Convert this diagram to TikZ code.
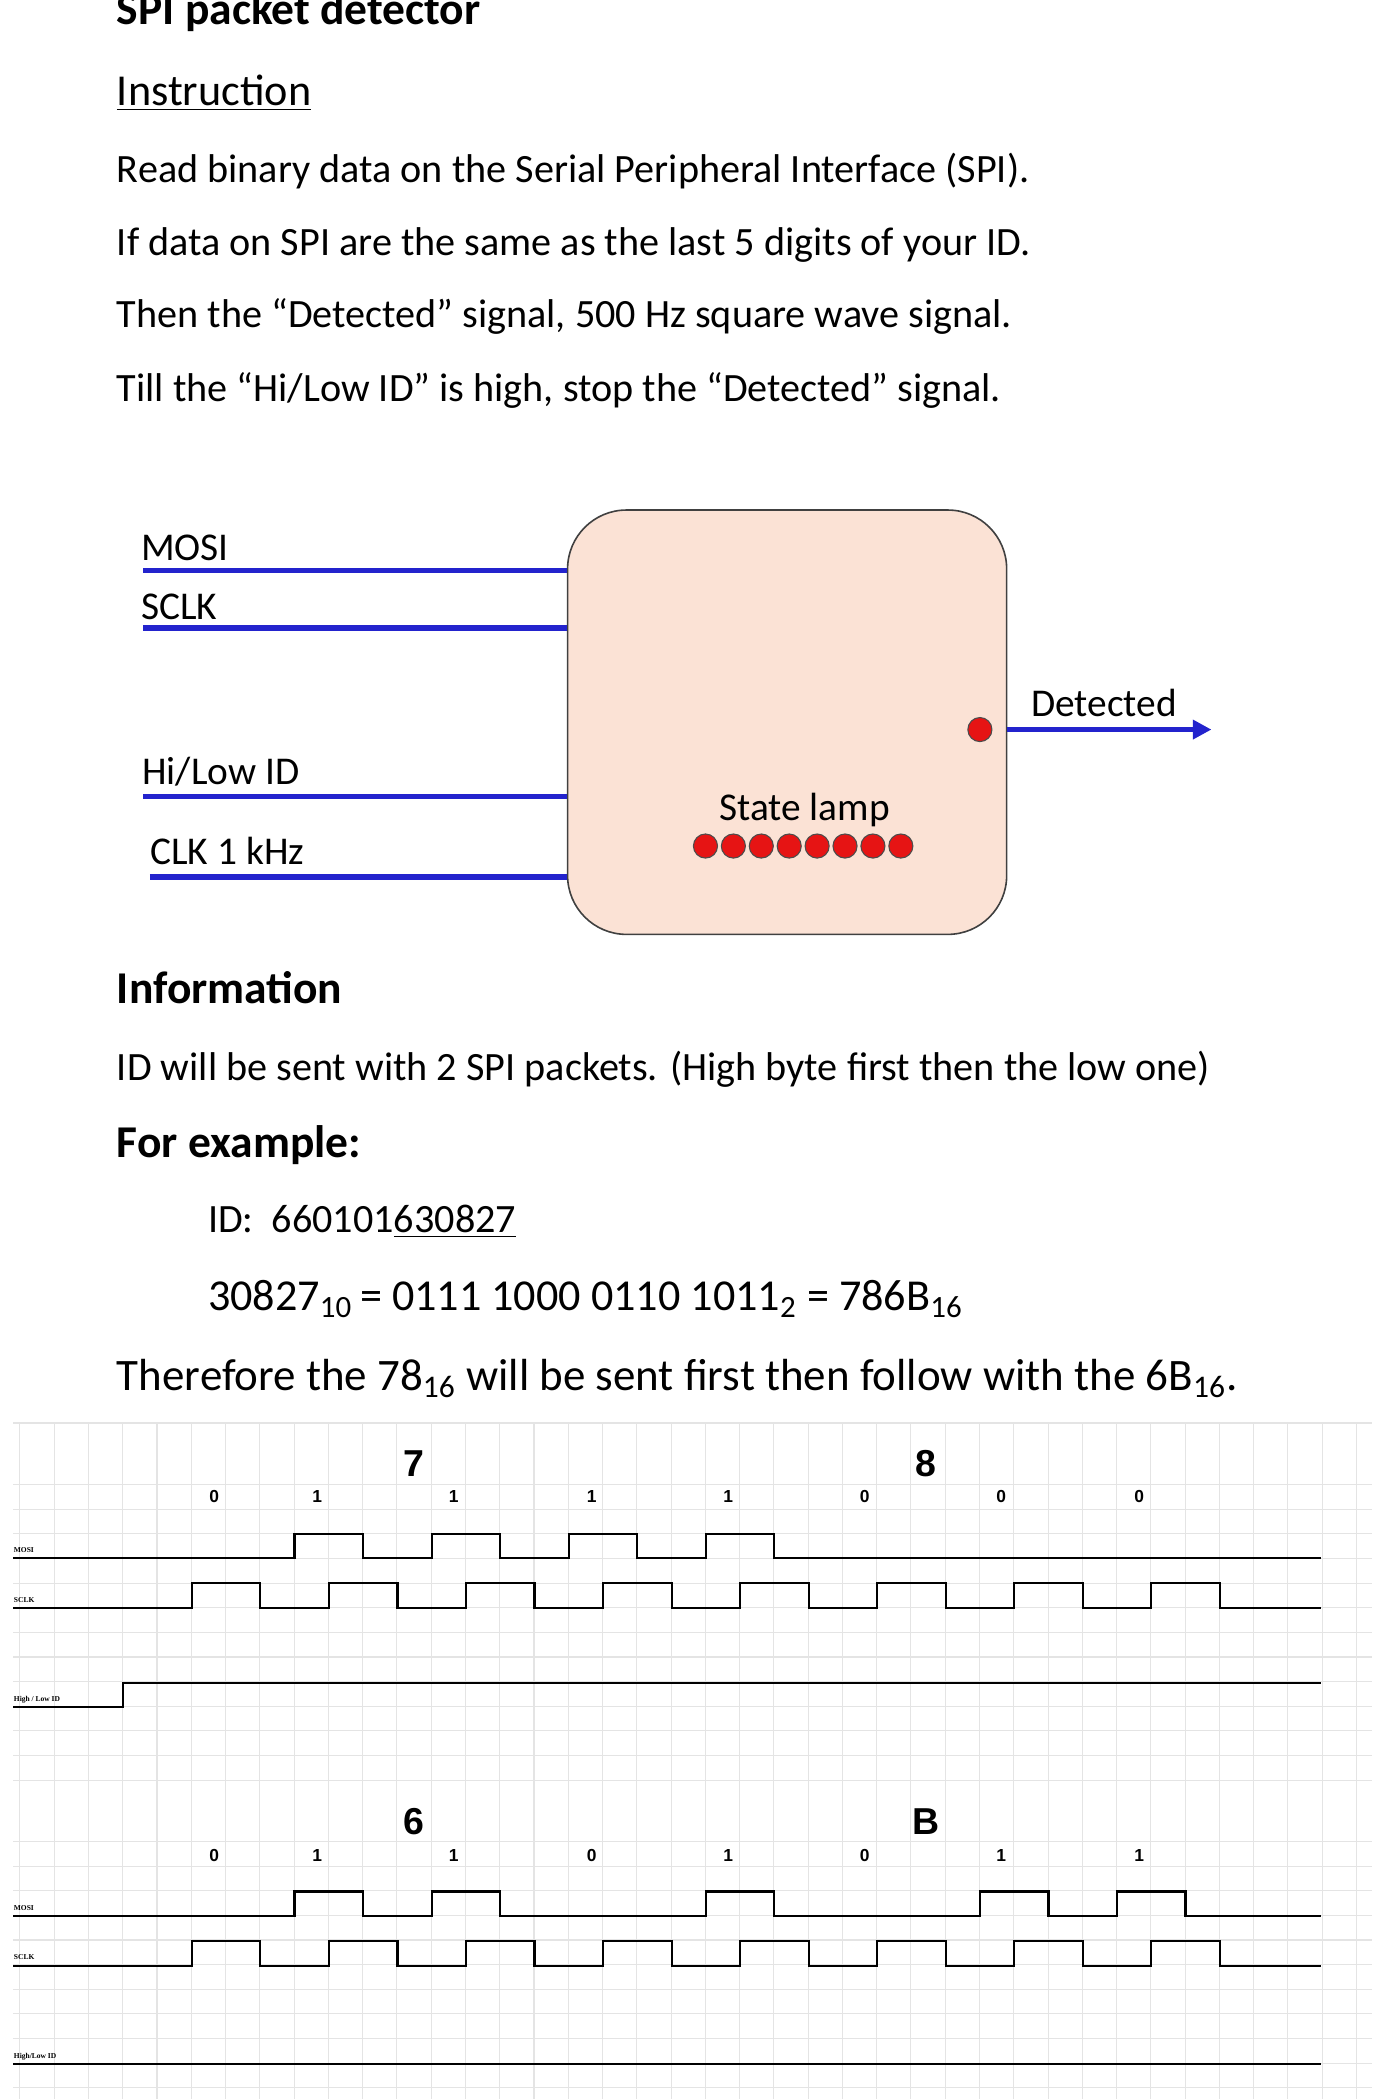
\documentclass[tikz,border=0pt]{standalone}
\usepackage{fontspec}
\setmainfont{Carlito}
\newfontfamily\arialf{Liberation Sans}
\newfontfamily\timesf{Liberation Serif}
\usetikzlibrary{arrows.meta}
\definecolor{wireblue}{RGB}{35,35,205}
\definecolor{boxfill}{RGB}{251,226,213}
\definecolor{lampred}{RGB}{230,20,20}
\definecolor{gridc}{RGB}{228,228,228}
\tikzset{
  txt/.style={anchor=base west,inner sep=0pt,font=\fontsize{15}{17}\selectfont},
  btxt/.style={anchor=base west,inner sep=0pt,font=\bfseries\fontsize{17}{19}\selectfont},
  wtxt/.style={anchor=base west,inner sep=0pt,font=\fontsize{14.7}{17}\selectfont},
  wire/.style={wireblue,line width=2pt},
  lamp/.style={circle,fill=lampred,draw=black!70,line width=0.4pt,minimum size=9pt,inner sep=0pt},
  sig/.style={black,line width=0.8pt},
  bitl/.style={font=\arialf\bfseries\fontsize{6.5}{7}\selectfont,inner sep=0pt},
  nibl/.style={font=\arialf\bfseries\fontsize{14}{15}\selectfont,inner sep=0pt},
  sigl/.style={anchor=base west,inner sep=0pt,font=\timesf\bfseries\fontsize{2.8}{3}\selectfont},
}
\begin{document}
\begin{tikzpicture}[x=0.5pt,y=-0.5pt]
\useasboundingbox (0,0) rectangle (1038,1568);
% text
\node[btxt] (title) at (87,18) {SPI packet detector};
\node[txt,font=\fontsize{16.5}{18}\selectfont] (instr) at (87,79) {\underline{Instruction}};
\node[txt] (l1) at (87,136) {Read binary data on the Serial Peripheral Interface (SPI).};
\node[txt] (l2) at (87,191) {If data on SPI are the same as the last 5 digits of your ID.};
\node[txt] (l3) at (87,245) {Then the “Detected” signal, 500 Hz square wave signal.};
\node[txt] (l4) at (87,300) {Till the “Hi/Low ID” is high, stop the “Detected” signal.};
% block
\node[draw=black!75,fill=boxfill,line width=0.6pt,rounded corners=22pt,minimum width=164pt,minimum height=158.5pt,inner sep=0pt] (blk) at (588,539.5) {};
\coordinate (mosiS) at (107,426); \coordinate (sclkS) at (107,469);
\coordinate (hlS) at (107,595); \coordinate (clkS) at (112,655);
\draw[wire] (mosiS) -- (mosiS -| blk.west);
\draw[wire] (sclkS) -- (sclkS -| blk.west);
\draw[wire] (hlS) -- (hlS -| blk.west);
\draw[wire] (clkS) -- (clkS -| blk.west);
\node[wtxt] (mosiL) at (105,419) {MOSI};
\node[wtxt] (sclkL) at (105,463) {SCLK};
\node[wtxt] (hlL) at (106,586) {Hi/Low ID};
\node[wtxt] (clkL) at (112,646) {CLK 1 kHz};
\node[lamp] (det) at (732,545) {};
\coordinate (detE) at (905,545);
\draw[wire,-{Triangle[length=7pt,width=7pt]}] (det -| blk.east) -- (detE);
\node[wtxt] (detL) at (770,535) {Detected};
\node[wtxt,anchor=base] (slL) at (601,613) {State lamp};
\foreach \i in {0,...,7}{\node[lamp] (sl\i) at ({527+20.85*\i},632) {};}
% info
\node[btxt] (info) at (87,750) {Information};
\node[txt] (i1) at (87,807) {ID will be sent with 2 SPI packets. (High byte first then the low one)};
\node[btxt] (ex) at (87,865) {For example:};
\node[txt] (id) at (155,921) {ID: \ 660101\underline{630827}};
\node[txt,font=\fontsize{16.5}{18}\selectfont] (conv) at (155,979) {30827\textsubscript{10}\,= 0111 1000 0110 1011\textsubscript{2} = 786B\textsubscript{16}};
\node[txt,font=\fontsize{16.8}{19}\selectfont] (there) at (87,1039) {Therefore the 78\textsubscript{16} will be sent first then follow with the 6B\textsubscript{16}.};
% grid
\foreach \k in {-3,...,36}{\draw[gridc,line width=0.4pt] ({91.7+25.6*\k},1063) -- ({91.7+25.6*\k},1568);}
\draw[gridc,line width=0.4pt] (10,1063) -- (1025,1063);
\draw[gridc,line width=0.4pt] (10,1330) -- (1025,1330);
\foreach \k in {0,...,11}{\draw[gridc,line width=0.4pt] (10,{1109+18.4*\k}) -- (1025,{1109+18.4*\k});}
\foreach \k in {0,...,10}{\draw[gridc,line width=0.4pt] (10,{1375.6+18.4*\k}) -- (1025,{1375.6+18.4*\k});}
% top timing
\node[nibl] (n7) at (309,1093) {7};
\node[nibl] (n8) at (692,1093) {8};
\foreach \x/\b [count=\c] in {160/0,237/1,339/1,442/1,544/1,646/0,748/0,851/0}{\node[bitl] (tb\c) at (\x,1118) {\b};}
\draw[sig] (10,1164) foreach \i in {1,2,3,4}{ -- ({117.6+102.4*\i},1164) -- ++(0,-18) -- ++(51.2,0) -- ++(0,18)} -- (987,1164);
\draw[sig] (10,1201) foreach \i in {0,...,7}{ -- ({143.3+102.4*\i},1201) -- ++(0,-18.6) -- ++(51.2,0) -- ++(0,18.6)} -- (987,1201);
\draw[sig] (10,1275) -- (91.7,1275) -- (91.7,1257) -- (987,1257);
\node[sigl] (tm) at (10,1160) {MOSI};
\node[sigl] (ts) at (10,1197) {SCLK};
\node[sigl] (th) at (10,1271) {High / Low ID};
% bottom timing
\node[nibl] (n6) at (309,1361) {6};
\node[nibl] (nB) at (692,1361) {B};
\foreach \x/\b [count=\c] in {160/0,237/1,339/1,442/0,544/1,646/0,748/1,851/1}{\node[bitl] (bb\c) at (\x,1386) {\b};}
\draw[sig] (10,1431) foreach \i in {1,2,4,6,7}{ -- ({117.6+102.4*\i},1431) -- ++(0,-18) -- ++(51.2,0) -- ++(0,18)} -- (987,1431);
\draw[sig] (10,1468.6) foreach \i in {0,...,7}{ -- ({143.3+102.4*\i},1468.6) -- ++(0,-18.6) -- ++(51.2,0) -- ++(0,18.6)} -- (987,1468.6);
\draw[sig] (10,1542) -- (987,1542);
\node[sigl] (bm) at (10,1427) {MOSI};
\node[sigl] (bs) at (10,1464) {SCLK};
\node[sigl] (bh) at (10,1538) {High/Low ID};
\end{tikzpicture}
\end{document}
